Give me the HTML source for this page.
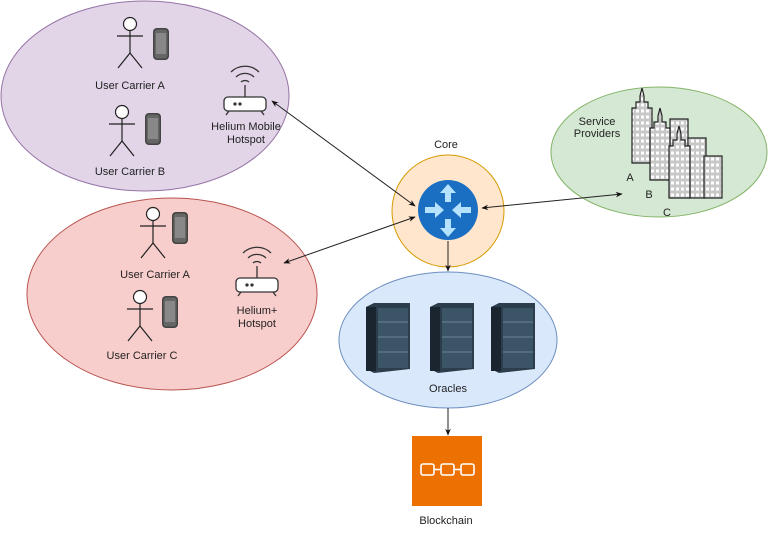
<!DOCTYPE html>
<html><head><meta charset="utf-8"><style>
html,body{margin:0;padding:0;background:#fff}
svg{display:block}
text{font-family:"Liberation Sans",Arial,sans-serif;font-size:11px;fill:#222}
</style></head><body>
<svg width="768" height="534" viewBox="0 0 768 534" xmlns="http://www.w3.org/2000/svg">
<defs>
<marker id="ah" viewBox="0 0 10 10" refX="9" refY="5" markerWidth="7" markerHeight="7" orient="auto-start-reverse"><path d="M0,1 L10,5 L0,9 L3,5z" fill="#111"/></marker>
<pattern id="win" x="0" y="0" width="5" height="6" patternUnits="userSpaceOnUse"><rect width="5" height="6" fill="#c8c8c8"/><rect x="1" y="1.5" width="3" height="3" fill="#fff"/></pattern>
<g id="person" fill="none" stroke="#222" stroke-width="1.2"><circle cx="0" cy="7" r="6.5" fill="#fff"/><line x1="0" y1="13.5" x2="0" y2="36"/><line x1="-13" y1="19" x2="13" y2="19"/><line x1="0" y1="36" x2="-12" y2="51"/><line x1="0" y1="36" x2="12" y2="51"/></g>
<g id="phone"><rect x="0" y="0" width="16" height="32" rx="4" fill="#444"/><rect x="1.5" y="1.5" width="13" height="29" rx="3" fill="#666"/><rect x="3" y="5" width="10" height="21" fill="#888"/></g>
<g id="hot" fill="none" stroke="#333" stroke-width="1.3"><path d="M-14,-15 A20,20 0 0 1 14,-15"/><path d="M-9,-10 A13,13 0 0 1 9,-10"/><path d="M-4,-5 A6,6 0 0 1 4,-5"/><line x1="0" y1="-2" x2="0" y2="10"/><rect x="-21" y="10" width="42" height="14" rx="4" fill="#fff"/><line x1="-16" y1="24" x2="-19" y2="28"/><line x1="16" y1="24" x2="19" y2="28"/><circle cx="-10" cy="17" r="1" fill="#333"/><circle cx="-5" cy="17" r="1" fill="#333"/></g>
<g id="srv"><path d="M0,4 L8,0 L44,0 L44,66 L8,70 L0,66z" fill="#2c3e4c"/><rect x="0" y="4" width="10" height="64" fill="#1a2530"/><rect x="12" y="5" width="30" height="60" fill="#3c5566"/><g stroke="#6b8595" stroke-width="1"><line x1="12" y1="19" x2="42" y2="19"/><line x1="12" y1="34" x2="42" y2="34"/><line x1="12" y1="49" x2="42" y2="49"/></g></g>
</defs>
<ellipse cx="145" cy="96" rx="144" ry="95" fill="#e1d5e7" stroke="#9673a6"/>
<ellipse cx="172" cy="294" rx="145" ry="96" fill="#f8cecc" stroke="#b85450"/>
<ellipse cx="659" cy="152" rx="108" ry="65" fill="#d5e8d4" stroke="#82b366"/>
<ellipse cx="448" cy="340" rx="109" ry="68" fill="#dae8fc" stroke="#6c8ebf"/>
<circle cx="448" cy="211" r="56" fill="#ffe6cc" stroke="#d79b00"/>

<use href="#person" x="130" y="17"/><use href="#phone" x="153" y="28"/>
<text x="130" y="89" text-anchor="middle">User Carrier A</text>
<use href="#person" x="122" y="105"/><use href="#phone" x="145" y="113"/>
<text x="130" y="175" text-anchor="middle">User Carrier B</text>
<use href="#hot" x="245" y="87"/>
<text x="246" y="130" text-anchor="middle">Helium Mobile</text>
<text x="246" y="143" text-anchor="middle">Hotspot</text>

<use href="#person" x="153" y="207"/><use href="#phone" x="172" y="212"/>
<text x="155" y="278" text-anchor="middle">User Carrier A</text>
<use href="#person" x="140" y="290"/><use href="#phone" x="162" y="296"/>
<text x="142" y="359" text-anchor="middle">User Carrier C</text>
<use href="#hot" x="257" y="268"/>
<text x="257" y="314" text-anchor="middle">Helium+</text>
<text x="257" y="327" text-anchor="middle">Hotspot</text>

<text x="446" y="148" text-anchor="middle">Core</text>
<circle cx="448" cy="210" r="30" fill="#1a6fc2"/>
<g fill="#b5e3ff"><path d="M448,184 l-8,9 h5 v9 h6 v-9 h5z"/><path d="M448,237 l-8,-9 h5 v-9 h6 v9 h5z"/><path d="M444,210 l-9,-8 v5 h-10 v6 h10 v5z"/><path d="M452,210 l9,-8 v5 h10 v6 h-10 v5z"/></g>

<text x="597" y="125" text-anchor="middle">Service</text>
<text x="597" y="137" text-anchor="middle">Providers</text>
<g stroke="#222" stroke-width="1.2" fill="url(#win)">
<rect x="670" y="119" width="18" height="60"/><rect x="688" y="138" width="18" height="60"/><rect x="704" y="156" width="18" height="42"/>
<path d="M632,163 V108 h4 v-6 h4 v-6 l2,-8 l2,8 v6 h4 v6 h4 V163z"/>
<path d="M650,180 V128 h4 v-6 h4 v-6 l2,-8 l2,8 v6 h4 v6 h4 V180z"/>
<path d="M669,198 V146 h4 v-6 h4 v-6 l2,-8 l2,8 v6 h4 v6 h5 V198z"/>
</g>
<text x="630" y="181" text-anchor="middle">A</text>
<text x="649" y="198" text-anchor="middle">B</text>
<text x="667" y="216" text-anchor="middle">C</text>

<use href="#srv" x="366" y="303"/><use href="#srv" x="430" y="303"/><use href="#srv" x="491" y="303"/>
<text x="448" y="392" text-anchor="middle">Oracles</text>

<rect x="412" y="436" width="70" height="70" fill="#ed7100"/>
<g fill="none" stroke="#fff" stroke-width="1.6"><rect x="421" y="464" width="13" height="11" rx="2"/><rect x="441" y="464" width="13" height="11" rx="2"/><rect x="461" y="464" width="13" height="11" rx="2"/><line x1="434" y1="469.5" x2="441" y2="469.5"/><line x1="454" y1="469.5" x2="461" y2="469.5"/></g>
<text x="446" y="524" text-anchor="middle">Blockchain</text>

<g stroke="#222" stroke-width="1" fill="none">
<line x1="272" y1="101" x2="415" y2="206" marker-start="url(#ah)" marker-end="url(#ah)"/>
<line x1="284" y1="263" x2="415" y2="217" marker-start="url(#ah)" marker-end="url(#ah)"/>
<line x1="482" y1="208" x2="622" y2="194" marker-start="url(#ah)" marker-end="url(#ah)"/>
<line x1="448" y1="241" x2="448" y2="271" marker-end="url(#ah)"/>
<line x1="448" y1="408" x2="448" y2="435" marker-end="url(#ah)"/>
</g>
</svg>
</body></html>
